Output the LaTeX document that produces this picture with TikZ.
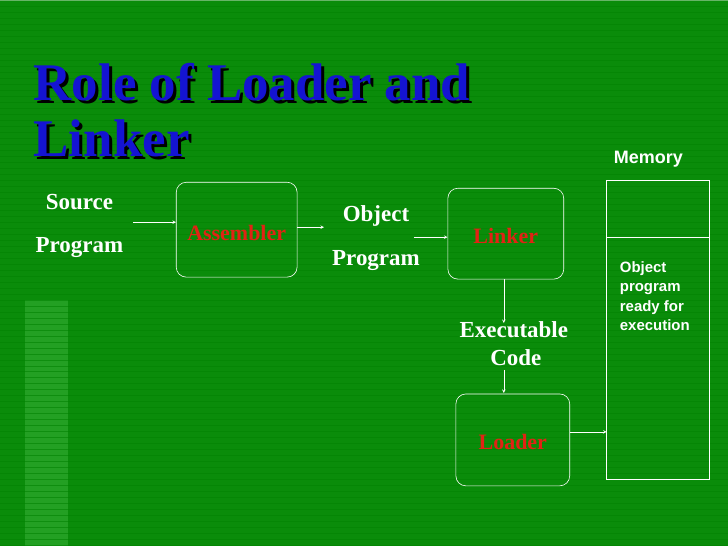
\documentclass[tikz,border=0pt]{standalone}
\usepackage{fontspec}
\setmainfont{Liberation Serif}
\setsansfont{Liberation Sans}
\begin{document}
\begin{tikzpicture}[x=1pt,y=-1pt,
  wt/.style={text=white,font=\bfseries\fontsize{23}{25}\selectfont,inner sep=0pt},
  rbox/.style={draw=white,rounded corners=10pt,line width=0.6pt},
  rt/.style={text={rgb,255:red,225;green,35;blue,20},font=\bfseries\fontsize{22}{24}\selectfont,inner sep=0pt},
  arr/.style={draw=white,line width=0.6pt,-stealth}]
\definecolor{bg}{RGB}{10,140,10}
\definecolor{bgd}{RGB}{2,130,2}
\definecolor{bgl}{RGB}{35,160,35}
\definecolor{ttl}{RGB}{20,20,210}
\fill[bg] (0,0) rectangle (728,546);
\fill[bgl] (25,300) rectangle (68,546);
\foreach \y in {0,6,...,546} {\draw[bgd,line width=1pt,opacity=0.6] (0,\y) -- (728,\y);}
\useasboundingbox (0,0) rectangle (728,546);
% title
\foreach \dx/\c in {3/black,0/ttl} {
 \node[anchor=base west,inner sep=0pt,text=\c,font=\bfseries\fontsize{53}{55}\selectfont] at (33+\dx,100+\dx) {Role of Loader and};
 \node[anchor=base west,inner sep=0pt,text=\c,font=\bfseries\fontsize{53}{55}\selectfont] at (33+\dx,156+\dx) {Linker};
}
% memory
\node[text=white,font=\sffamily\bfseries\fontsize{18}{20}\selectfont,anchor=base west,inner sep=0pt] (memlab) at (614,163) {Memory};
\draw[white,line width=0.8pt] (607,180) rectangle (710,480);
\coordinate (mem) at (607,432);
\draw[white,line width=0.8pt] (607,237) -- (710,237);
\node[text=white,font=\sffamily\bfseries\fontsize{15}{19.5}\selectfont,align=left,anchor=north west,inner sep=0pt] (memtxt) at (620,261) {Object\\program\\ready for\\execution};
% source
\node[wt,anchor=base] (src1) at (79,209) {Source};
\node[wt,anchor=base] (src2) at (79,252) {Program};
\coordinate (a1s) at (133,222);
\node[rbox,minimum width=121pt,minimum height=95pt] (asm) at (236.5,229.5) {};
\node[rt] (asmt) at (236.5,233) {Assembler};
\draw[arr] (a1s) -- (asm.west |- a1s);
\node[wt,anchor=base] (ob1) at (376,221) {Object};
\node[wt,anchor=base] (ob2) at (376,265) {Program};
\coordinate (a2e) at (324,227);
\draw[arr] (asm.east |- a2e) -- (a2e);
\node[rbox,minimum width=116pt,minimum height=91pt] (lnk) at (506,233.5) {};
\node[rt] (lnkt) at (506,236) {Linker};
\coordinate (a3s) at (414,237);
\draw[arr] (a3s) -- (lnk.west |- a3s);
\node[wt,anchor=base] (ex1) at (514,337) {Executable};
\node[wt,anchor=base] (ex2) at (516,365) {Code};
\draw[arr] (lnk.south -| 504,0) -- (504,323);
\node[rbox,minimum width=114pt,minimum height=92pt] (ldr) at (513,440) {};
\node[rt] (ldrt) at (513,442) {Loader};
\coordinate (a4s) at (504,370);
\draw[arr] (a4s) -- (504,393);
\draw[arr] (ldr.east |- mem) -- (mem);
\end{tikzpicture}
\end{document}
